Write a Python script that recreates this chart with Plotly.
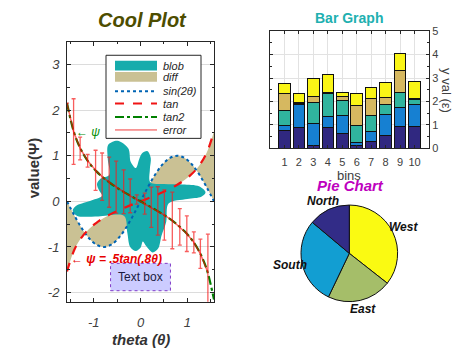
import plotly.graph_objects as go

W, H = 474, 355
FONT = "Liberation Sans, Arial, sans-serif"

# ---------------- main plot data ----------------
theta = [-1.571, -1.414, -1.257, -1.100, -0.942, -0.785, -0.628, -0.471, -0.314, -0.157, 0.0,
         0.157, 0.314, 0.471, 0.628, 0.785, 0.942, 1.100, 1.257, 1.414, 1.571]
sin2 = [0.0, -0.309, -0.588, -0.809, -0.951, -1.0, -0.951, -0.809, -0.588, -0.309, 0.0,
        0.309, 0.588, 0.809, 0.951, 1.0, 0.951, 0.809, 0.588, 0.309, 0.0]
tan1 = [-1.539, -1.063, -0.788, -0.604, -0.470, -0.363, -0.275, -0.198, -0.128, -0.063, 0.0,
        0.063, 0.128, 0.198, 0.275, 0.363, 0.470, 0.604, 0.788, 1.063, 1.539]
tan2 = [2.155, 1.488, 1.103, 0.846, 0.657, 0.509, 0.386, 0.277, 0.180, 0.088, 0.0,
        -0.088, -0.180, -0.277, -0.386, -0.509, -0.657, -0.846, -1.103, -1.488, -2.155]

err_x = [-1.571, -1.43, -1.29, -1.13, -0.96, -0.82, -0.67, -0.52, -0.36, -0.22, -0.08,
         0.09, 0.23, 0.37, 0.51, 0.68, 0.84, 0.99, 1.14, 1.28, 1.44]
err_y = [2.155, 1.53, 1.16, 0.89, 0.68, 0.54, 0.42, 0.31, 0.21, 0.12, 0.04,
         -0.05, -0.13, -0.21, -0.30, -0.42, -0.56, -0.71, -0.90, -1.15, -1.56]
err_e = [float("nan"), 0.72, 0.25, 0.14, 0.44, 0.52, 0.55, 0.57, 0.48, 0.37, 0.10,
         0.23, 0.44, 0.53, 0.55, 0.62, 0.40, 0.39, 0.23, 0.32, 0.84]

blob_x = [1.39, 1.25, 0.90, 0.50, 0.21, 0.20, 0.22, 0.15, 0.03, -0.03, -0.10, -0.21, -0.26,
          -0.49, -0.69, -0.70, -0.67, -0.85, -0.93, -0.88, -0.82, -1.10, -1.38, -1.45,
          -1.35, -0.90, -0.35, -0.28, -0.22, -0.10, 0.00, 0.05, 0.12, 0.26, 0.38, 0.45,
          0.55, 0.60, 1.00, 1.30, 1.39]
blob_y = [0.20, 0.33, 0.37, 0.38, 0.42, 0.70, 0.95, 1.10, 1.05, 0.92, 0.73, 0.87, 1.16,
          1.33, 1.24, 0.94, 0.58, 0.50, 0.38, 0.23, 0.12, 0.00, -0.10, -0.20,
          -0.32, -0.33, -0.32, -0.70, -1.00, -1.09, -1.02, -0.88, -0.98, -1.12, -1.03, -0.75,
          -0.45, -0.05, 0.05, 0.10, 0.20]

legend_names = ["blob", "diff", "sin(2θ)", "tan", "tan2", "error"]

# ---------------- bar data ----------------
bins = [1, 2, 3, 4, 5, 6, 7, 8, 9, 10]
seg1 = [0.78, 0.88, 0.10, 0.90, 0.63, 0.14, 0.27, 0.53, 0.95, 0.95]
seg2 = [0.18, 1.00, 0.98, 0.47, 0.79, 0.09, 0.44, 0.92, 0.79, 0.93]
seg3 = [0.64, 0.04, 0.87, 0.96, 0.63, 0.76, 0.71, 0.40, 0.64, 0.20]
seg4 = [0.73, 0.05, 0.24, 0.05, 0.14, 0.82, 0.69, 0.30, 0.96, 0.04]
seg5 = [0.42, 0.35, 0.78, 0.78, 0.19, 0.51, 0.47, 0.66, 0.70, 0.74]
seg_colors = ["rgb(48,40,128)", "rgb(22,128,210)", "rgb(48,180,158)",
              "rgb(214,184,96)", "rgb(250,245,22)"]

# ---------------- pie data (clockwise from 12 o'clock) ----------------
pie_labels = ["West", "East", "South", "North"]
pie_values = [35.6, 21.5, 29.0, 13.9]
pie_colors = ["rgb(250,250,18)", "rgb(165,190,105)", "rgb(18,158,210)", "rgb(50,44,135)"]

# ---------------- geometry (px) ----------------
def px_x(p):
    return p / W

def px_y(p):
    return 1 - p / H

main_xd = [px_x(67), px_x(214)]
main_yd = [px_y(306), px_y(37)]
bar_xd = [px_x(270), px_x(429)]
bar_yd = [px_y(147.3), px_y(26)]
pie_xd = [px_x(299.3), px_x(399.3)]
pie_yd = [px_y(306), px_y(206)]

AX = "#262626"
TICK = "#404040"
TEAL = "rgb(22,172,172)"
BEIGE = "rgb(202,193,148)"
BLUE = "rgb(0,100,180)"
RED = "rgb(240,20,20)"
GREEN = "rgb(0,128,0)"

fig = go.Figure()

# diff fill (between sin and tan)
fig.add_trace(go.Scatter(x=theta, y=sin2, mode="lines", line=dict(width=0, shape="spline"),
                         showlegend=False, hoverinfo="skip", xaxis="x", yaxis="y"))
fig.add_trace(go.Scatter(x=theta, y=tan1, mode="lines", line=dict(width=0, shape="spline"),
                         fill="tonexty", fillcolor=BEIGE, name="diff", showlegend=False,
                         xaxis="x", yaxis="y"))
# blob
fig.add_trace(go.Scatter(x=blob_x, y=blob_y, mode="lines", fill="toself",
                         fillcolor=TEAL, line=dict(width=0, shape="spline", smoothing=0.9, color=TEAL),
                         name="blob", showlegend=False, xaxis="x", yaxis="y"))
# sin
fig.add_trace(go.Scatter(x=theta, y=sin2, mode="lines",
                         line=dict(color=BLUE, width=2, dash="dot", shape="spline"),
                         name="sin(2θ)", showlegend=False, xaxis="x", yaxis="y"))
# tan
fig.add_trace(go.Scatter(x=theta, y=tan1, mode="lines",
                         line=dict(color=RED, width=2.2, dash="dash", shape="spline"),
                         name="tan", showlegend=False, xaxis="x", yaxis="y"))
# tan2
fig.add_trace(go.Scatter(x=theta, y=tan2, mode="lines",
                         line=dict(color=GREEN, width=2.2, dash="dashdot", shape="spline"),
                         name="tan2", showlegend=False, xaxis="x", yaxis="y"))
# error
fig.add_trace(go.Scatter(x=err_x, y=err_y, mode="lines",
                         line=dict(color="rgba(255,0,0,0.6)", width=1.5),
                         error_y=dict(type="data", array=err_e, visible=True,
                                      color="rgba(245,30,30,0.72)", thickness=1.3, width=2),
                         name="error", showlegend=False, xaxis="x", yaxis="y"))

# bars
for seg, col in zip([seg1, seg2, seg3, seg4, seg5], seg_colors):
    fig.add_trace(go.Bar(x=bins, y=seg, width=0.8, marker=dict(color=col, line=dict(color="#111", width=1)),
                         showlegend=False, xaxis="x2", yaxis="y2"))

# pie
fig.add_trace(go.Pie(labels=pie_labels, values=pie_values, sort=False, direction="clockwise",
                     rotation=0, textinfo="none", showlegend=False,
                     marker=dict(colors=pie_colors, line=dict(color="#111", width=1)),
                     domain=dict(x=pie_xd, y=pie_yd)))

tickfont_it = dict(family=FONT, size=13, color=TICK, style="italic")

fig.update_layout(
    width=W, height=H, autosize=False,
    margin=dict(l=0, r=0, t=0, b=0),
    paper_bgcolor="white", plot_bgcolor="white",
    barmode="stack", showlegend=False,
    font=dict(family=FONT),
    xaxis=dict(domain=main_xd, range=[-1.5708, 1.5708], tickvals=[-1, 0, 1], ticktext=["-1", "0", "1"],
               ticks="inside", ticklen=4, tickcolor=AX, showline=True, linecolor=AX, linewidth=1,
               mirror="ticks", showgrid=False, zeroline=False, tickfont=tickfont_it,
               ticklabelstandoff=9,
               minor=dict(dtick=0.5, ticks="inside", ticklen=2.5, tickcolor=AX, showgrid=False),
               anchor="y"),
    yaxis=dict(domain=main_yd, range=[-2.2, 3.5], tickvals=[-2, -1, 0, 1, 2, 3],
               ticktext=["-2", "-1", "0", "1", "2", "3"],
               ticks="inside", ticklen=4, tickcolor=AX, showline=True, linecolor=AX, linewidth=1,
               mirror="ticks", showgrid=True, gridcolor="#dcdcdc", zeroline=False, tickfont=tickfont_it,
               ticklabelstandoff=4,
               minor=dict(dtick=0.5, ticks="inside", ticklen=2.5, tickcolor=AX, showgrid=False),
               anchor="x"),
    xaxis2=dict(domain=bar_xd, range=[0, 11], tickvals=bins, ticks="inside", ticklen=3, tickcolor=AX,
                showline=True, linecolor=AX, mirror="ticks", showgrid=True, gridcolor="#e2e2e2",
                zeroline=False, tickfont=dict(family=FONT, size=11, color=TICK), anchor="y2",
                ticklabelstandoff=3),
    yaxis2=dict(domain=bar_yd, range=[0, 5], tickvals=[0, 1, 2, 3, 4, 5], side="right",
                ticks="inside", ticklen=3, tickcolor=AX, showline=True, linecolor=AX, mirror="ticks",
                showgrid=True, gridcolor="#e2e2e2", zeroline=False,
                tickfont=dict(family=FONT, size=11, color=TICK), anchor="x2",
                minor=dict(dtick=0.5, ticks="inside", ticklen=2, tickcolor=AX, showgrid=False)),
)

ann = []
def add_text(x, y, text, size, color, bold=False, italic=False, angle=0, xanchor="center",
             xref="paper", yref="paper"):
    t = text
    if bold:
        t = "<b>" + t + "</b>"
    if italic:
        t = "<i>" + t + "</i>"
    ann.append(dict(x=x, y=y, xref=xref, yref=yref, text=t, showarrow=False, textangle=angle,
                    xanchor=xanchor, yanchor="middle",
                    font=dict(family=FONT, size=size, color=color)))

add_text(px_x(142), px_y(15), "Cool Plot", 20, "rgb(77,77,0)", bold=True, italic=True)
add_text(px_x(141), px_y(345), "theta (θ)", 15, "#333333", bold=True, italic=True)
add_text(px_x(33), px_y(168), "value(Ψ)", 15, "#333333", bold=True, angle=-90)
add_text(-1.42, 1.51, "← ψ", 12, "rgb(0,140,0)", italic=True, xanchor="left", xref="x", yref="y")
add_text(-1.53, -1.26, "← ψ = .5tan(.8θ)", 12, "rgb(230,0,0)", bold=True, italic=True,
         xanchor="left", xref="x", yref="y")

add_text(px_x(349), px_y(12.5), "Bar Graph", 14, "rgb(32,176,176)", bold=True)
add_text(px_x(349), px_y(175), "bins", 13, TICK)
add_text(px_x(447), px_y(87), "y val (ε)", 13, TICK, angle=90)

add_text(px_x(350), px_y(186), "Pie Chart", 15, "rgb(190,0,190)", bold=True, italic=True)
add_text(px_x(323), px_y(202), "North", 12, "#111111", bold=True, italic=True)
add_text(px_x(403), px_y(229), "West", 12, "#111111", bold=True, italic=True)
add_text(px_x(290), px_y(268), "South", 12, "#111111", bold=True, italic=True)
add_text(px_x(363), px_y(314), "East", 12, "#111111", bold=True, italic=True)

# text box label
ann.append(dict(x=0.0, y=-1.66, xref="x", yref="y", text="Text box", showarrow=False,
                font=dict(family=FONT, size=12, color="#1a1a40")))

# manual legend (box, samples, labels)
shapes = []
shapes.append(dict(type="rect", xref="x", yref="y", x0=-0.64, x1=0.64, y0=-1.96, y1=-1.36,
                   fillcolor="rgb(204,204,255)", line=dict(color="rgb(130,60,200)", width=1, dash="dot"),
                   layer="above"))
shapes.append(dict(type="rect", xref="paper", yref="paper", x0=px_x(106), x1=px_x(201),
                   y0=px_y(137), y1=px_y(51), fillcolor="white", line=dict(color=AX, width=1),
                   layer="above"))
row_y = [61.7, 73.3, 88.3, 101, 115, 128.3]
sx0, sx1 = px_x(115), px_x(157)
shapes.append(dict(type="rect", xref="paper", yref="paper", x0=sx0, x1=sx1,
                   y0=px_y(row_y[0] + 5), y1=px_y(row_y[0] - 5), fillcolor=TEAL, line=dict(width=0),
                   layer="above"))
shapes.append(dict(type="rect", xref="paper", yref="paper", x0=sx0, x1=sx1,
                   y0=px_y(row_y[1] + 5), y1=px_y(row_y[1] - 5), fillcolor=BEIGE, line=dict(width=0),
                   layer="above"))
for ry, col, dash, wd in [(row_y[2], BLUE, "dot", 2), (row_y[3], RED, "dash", 2),
                          (row_y[4], GREEN, "dashdot", 2), (row_y[5], "rgb(240,60,60)", "solid", 1)]:
    shapes.append(dict(type="line", xref="paper", yref="paper", x0=sx0, x1=sx1,
                       y0=px_y(ry), y1=px_y(ry), line=dict(color=col, width=wd, dash=dash),
                       layer="above"))
for ry, nm in zip(row_y, legend_names):
    ann.append(dict(x=px_x(161), y=px_y(ry), xref="paper", yref="paper", text="<i>" + nm + "</i>",
                    showarrow=False, xanchor="left", yanchor="middle",
                    font=dict(family=FONT, size=11, color=AX)))

fig.update_layout(annotations=ann, shapes=shapes)

fig.write_html("out.html")
